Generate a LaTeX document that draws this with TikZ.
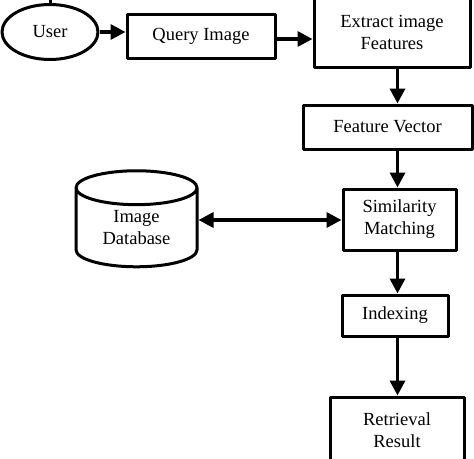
\documentclass[tikz,border=0pt]{standalone}
\usepackage{fontspec}
\setmainfont{Liberation Serif}
\usetikzlibrary{shapes.geometric,arrows.meta}
\tikzset{
  blk/.style={draw,line width=3pt,align=center,inner sep=0pt},
  flow/.style={line width=3.4pt,-{Triangle[length=15pt,width=15pt]}},
}
\begin{document}
\begin{tikzpicture}[x=1pt,y=-1pt,font=\fontsize{18.5}{22}\selectfont,line join=round]
\useasboundingbox (0,0) rectangle (474,458);
% top row
\node[blk,ellipse,minimum width=96,minimum height=55] (user) at (50,32) {User};
\node[blk,minimum width=148,minimum height=44] (query) at (201,36) {Query Image};
\node[blk,minimum width=156,minimum height=70] (extract) at (392,32) {Extract image\\Features};
% right column
\node[blk,minimum width=169,minimum height=44] (fv) at (387.5,127) {Feature Vector};
\node[blk,minimum width=113,minimum height=61] (sim) at (399.5,219.5) {Similarity\\Matching};
\node[blk,minimum width=106,minimum height=41] (idx) at (395,315.5) {Indexing};
\node[blk,minimum width=134,minimum height=66] (res) at (397,430) {Retrieval\\Result};
% database
\node[blk,cylinder,shape border rotate=90,aspect=0.5,minimum width=121,minimum height=96] (db) at (136.5,228) {Image\\Database};
\coordinate (spine) at (397.5,0);
\coordinate (above) at (50,-10);
\draw[line width=3pt] (user.north) -- (above);
\draw[flow] (user.east |- 0,32) -- (query.west |- 0,32);
\draw[flow] (query.east |- 0,39) -- (extract.west |- 0,39);
\draw[flow] (extract.south -| spine) -- (fv.north -| spine);
\draw[flow] (fv.south -| spine) -- (sim.north -| spine);
\draw[flow] (sim.south -| spine) -- (idx.north -| spine);
\draw[flow] (idx.south -| spine) -- (res.north -| spine);
\draw[flow,{Triangle[length=15pt,width=15pt]}-{Triangle[length=15pt,width=15pt]}] (db.east |- 0,220) -- (sim.west |- 0,220);
\end{tikzpicture}
\end{document}
